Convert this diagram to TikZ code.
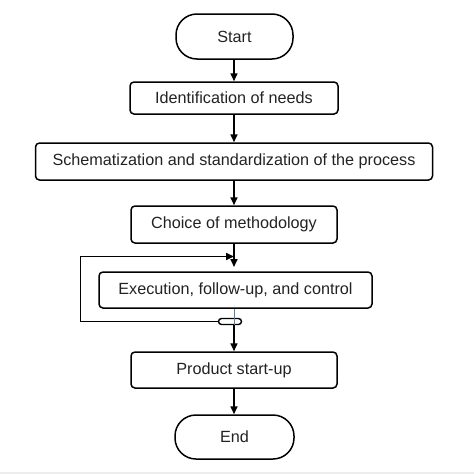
\documentclass[tikz,border=0pt]{standalone}
\usepackage{fontspec}
\setmainfont{Liberation Sans}
\usetikzlibrary{arrows.meta}
\definecolor{txt}{HTML}{222222}
\definecolor{bluegray}{HTML}{6C7C90}
\begin{document}
\begin{tikzpicture}[x=1pt,y=-1pt,
  box/.style={draw,line width=1.5pt,rounded corners=4pt,inner sep=0pt,
    text=txt,font=\fontsize{16.2}{18}\selectfont,anchor=center},
  term/.style={box,rounded corners=21pt},
  arr/.style={line width=1.6pt,-{Triangle[length=8pt,width=7pt]}}]
\useasboundingbox (0,0) rectangle (474,474);
\fill[gray!14] (0,471.5) rectangle (474,474);
\node[term,minimum width=117pt,minimum height=45pt] (start) at (234.5,36.5) {Start};
\node[box,minimum width=208pt,minimum height=32pt] (ident) at (234,98) {Identification of needs};
\node[box,minimum width=397pt,minimum height=37pt] (schem) at (234,161.5) {Schematization and standardization of the process};
\node[box,minimum width=206pt,minimum height=37pt] (choice) at (234,224.5) {Choice of methodology};
\node[box,minimum width=273pt,minimum height=36pt] (exec) at (235.5,290) {Execution, follow-up, and control};
\node[draw,line width=1.4pt,rounded corners=3pt,minimum width=23pt,minimum height=6pt,inner sep=0pt] (junc) at (230,321.5) {};
\node[box,minimum width=206pt,minimum height=36pt] (prod) at (234,370) {Product start-up};
\node[term,minimum width=119pt,minimum height=44pt] (end) at (234.5,437) {End};
\coordinate (lb) at (80.5,321.5);
\coordinate (lt) at (80.5,256.5);
\coordinate (lr) at (234,256.5);
\coordinate (ce) at (234,267);
\coordinate (jb) at (234,324.5);
\draw[arr] (start.south -| ident.north) -- (ident.north);
\draw[arr] (ident.south) -- (ident.south |- schem.north);
\draw[arr] (schem.south) -- (choice.north);
\draw[arr] (choice.south) -- (ce);
\draw[line width=0.8pt,draw=bluegray] (exec.south -| jb) -- (jb);
\draw[arr] (junc.west) -- (lb) -- (lt) -- (lr);
\draw[arr] (jb) -- (prod.north);
\draw[arr] (prod.south) -- (prod.south |- end.north);
\end{tikzpicture}
\end{document}
